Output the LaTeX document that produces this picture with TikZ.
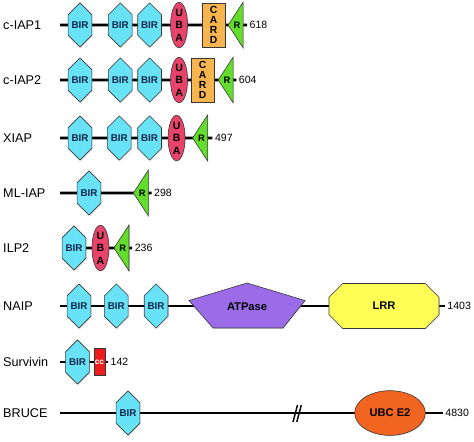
\documentclass[tikz,border=0pt]{standalone}
\usepackage{fontspec}
\setmainfont{Liberation Sans}
\usetikzlibrary{shapes.geometric, shapes.misc, positioning, backgrounds, shadows}
\definecolor{birblue}{RGB}{104,226,246}
\definecolor{birtext}{RGB}{20,40,75}
\definecolor{ubared}{RGB}{232,67,107}
\definecolor{cardorange}{RGB}{247,181,79}
\definecolor{ringgreen}{RGB}{98,221,43}
\definecolor{atppurple}{RGB}{156,108,232}
\definecolor{lrryellow}{RGB}{255,255,85}
\definecolor{ubcorange}{RGB}{242,101,32}
\definecolor{ccred}{RGB}{238,28,28}
\definecolor{edgegray}{RGB}{55,55,55}
\tikzset{
  dombox/.style={draw=edgegray, line width=0.5pt, inner sep=0pt,
    drop shadow={opacity=0.18, shadow xshift=0.8pt, shadow yshift=-0.8pt}},
  bir/.style={dombox, chamfered rectangle, fill=birblue,
    chamfered rectangle xsep=0.12cm, chamfered rectangle ysep=0.25cm,
    minimum width=0.57cm, minimum height=1.32cm,
    text=birtext, font=\fontsize{8.4}{9}\selectfont\bfseries},
  uba/.style={dombox, ellipse, fill=ubared, minimum width=0.51cm,
    minimum height=1.32cm, align=center,
    font=\fontsize{9}{10.6}\selectfont\bfseries},
  card/.style={dombox, rectangle, fill=cardorange, minimum width=0.69cm,
    minimum height=1.32cm, align=center,
    font=\fontsize{8.8}{8.6}\selectfont\bfseries},
  ring/.style={dombox, isosceles triangle, isosceles triangle stretches,
    shape border rotate=180, fill=ringgreen, minimum width=1.38cm,
    minimum height=0.45cm, font=\fontsize{8}{8}\selectfont\bfseries},
  ccbox/.style={dombox, rectangle, fill=ccred, minimum width=0.33cm,
    minimum height=0.81cm, text=white,
    font=\fontsize{7}{7}\selectfont\bfseries},
  lrr/.style={dombox, chamfered rectangle, fill=lrryellow,
    chamfered rectangle xsep=0.3cm, chamfered rectangle ysep=0.3cm,
    minimum width=3.3cm, minimum height=1.35cm,
    font=\fontsize{9.5}{10}\selectfont\bfseries},
  ubc/.style={dombox, ellipse, fill=ubcorange, minimum width=2.12cm,
    minimum height=1.34cm, font=\fontsize{9.5}{10}\selectfont\bfseries},
  atpase/.style={draw=edgegray, line width=0.5pt, fill=atppurple,
    drop shadow={opacity=0.18, shadow xshift=0.8pt, shadow yshift=-0.8pt}},
  protname/.style={anchor=west, inner sep=0pt,
    font=\fontsize{10.8}{12}\selectfont},
  aalen/.style={inner sep=0.5pt, font=\fontsize{9}{10}\selectfont},
  backbone/.style={line width=2.2pt, black, shorten >=1.5pt}
}

\begin{document}
\begin{tikzpicture}[x=0.03cm, y=-0.03cm]
  \useasboundingbox (0,0) rectangle (474,441);

  % c-IAP1
  \node[protname] (l1) at (3,25) {c-IAP1};
  \coordinate (s1) at (60,25);
  \node[bir] (b11) at (80,25) {BIR};
  \node[bir, right=0.48cm of b11] (b12) {BIR};
  \node[bir, right=0.15cm of b12] (b13) {BIR};
  \node[uba, right=0.255cm of b13] (u1) {U\\B\\A};
  \node[card, right=0.42cm of u1] (c1) {C\\A\\R\\D};
  \node[ring, right=0.06cm of c1] (r1) {R};
  \node[aalen, right=0.16cm of r1] (n1) {618};

  % c-IAP2
  \node[protname] (l2) at (3,80) {c-IAP2};
  \coordinate (s2) at (60,80);
  \node[bir] (b21) at (80,80) {BIR};
  \node[bir, right=0.48cm of b21] (b22) {BIR};
  \node[bir, right=0.15cm of b22] (b23) {BIR};
  \node[uba, right=0.255cm of b23] (u2) {U\\B\\A};
  \node[card, right=0.09cm of u2] (c2) {C\\A\\R\\D};
  \node[ring, right=0.09cm of c2] (r2) {R};
  \node[aalen, right=0.14cm of r2] (n2) {604};

  % XIAP
  \node[protname] (l3) at (3,138) {XIAP};
  \coordinate (s3) at (60,138);
  \node[bir] (b31) at (80,138) {BIR};
  \node[bir, right=0.45cm of b31] (b32) {BIR};
  \node[bir, right=0.18cm of b32] (b33) {BIR};
  \node[uba, right=0.18cm of b33] (u3) {U\\B\\A};
  \node[ring, right=0.195cm of u3] (r3) {R};
  \node[aalen, right=0.19cm of r3] (n3) {497};

  % ML-IAP
  \node[protname] (l4) at (3,193) {ML-IAP};
  \coordinate (s4) at (60,193);
  \node[bir] (b41) at (89,193) {BIR};
  \node[ring, right=0.945cm of b41] (r4) {R};
  \node[aalen, right=0.14cm of r4] (n4) {298};

  % ILP2
  \node[protname] (l5) at (3,248) {ILP2};
  \coordinate (s5) at (62,248);
  \node[bir] (b51) at (74,248) {BIR};
  \node[uba, right=0.165cm of b51] (u5) {U\\B\\A};
  \node[ring, right=0.12cm of u5] (r5) {R};
  \node[aalen, right=0.14cm of r5] (n5) {236};

  % NAIP
  \node[protname] (l6) at (3,306) {NAIP};
  \coordinate (s6) at (60,306);
  \node[bir] (b61) at (79,306) {BIR};
  \node[bir, right=0.39cm of b61] (b62) {BIR};
  \node[bir, right=0.465cm of b62] (b63) {BIR};
  \draw[atpase] (247,283) -- (305,300.5) -- (283,328) -- (213,328)
    -- (189,300.5) -- cycle;
  \node[font=\fontsize{9.5}{10}\selectfont\bfseries] (a6) at (247,307) {ATPase};
  \node[lrr] (lrr6) at (384,306) {LRR};
  \node[aalen, right=0.22cm of lrr6] (n6) {1403};

  % Survivin
  \node[protname] (l7) at (3,362) {Survivin};
  \coordinate (s7) at (60,362);
  \node[bir] (b71) at (77.5,362) {BIR};
  \node[ccbox, right=0.12cm of b71] (cc7) {cc};
  \node[aalen, right=0.14cm of cc7] (n7) {142};

  % BRUCE
  \node[protname] (l8) at (3,413) {BRUCE};
  \coordinate (s8) at (60,413);
  \node[bir] (b81) at (128,413) {BIR};
  \node[ubc] (e8) at (390,413) {UBC E2};
  \node[aalen, right=0.57cm of e8] (n8) {4830};
  \draw[line width=1.2pt] (293,422) -- (297.5,405);
  \draw[line width=1.2pt] (296.8,422) -- (301.3,405);

  \begin{pgfonlayer}{background}
    \foreach \i in {1,...,8}
      \draw[backbone] (s\i) -- (n\i.west);
  \end{pgfonlayer}
\end{tikzpicture}
\end{document}
